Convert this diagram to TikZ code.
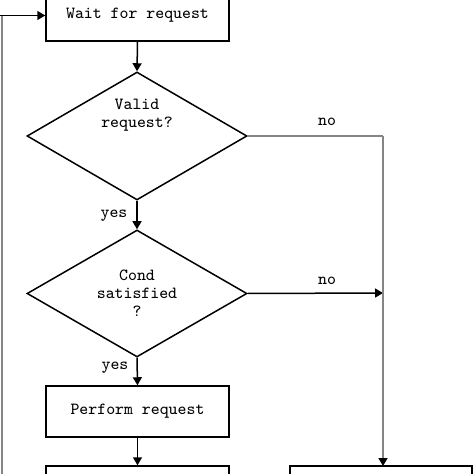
\documentclass[tikz,border=0pt]{standalone}
\usepackage{fontspec}
\usetikzlibrary{shapes.geometric,arrows.meta}
\definecolor{linegray}{HTML}{858585}
\tikzset{
  procbox/.style={draw=black, line width=0.75pt, rectangle, minimum width=91.5pt, minimum height=25.5pt, inner sep=0pt, font=\ttfamily\fontsize{8.5}{9}\selectfont},
  decbox/.style={draw=black, line width=0.75pt, diamond, minimum width=110pt, minimum height=64pt, inner sep=0pt},
  lbl/.style={font=\ttfamily\fontsize{8.5}{9}\selectfont, inner sep=0pt, align=center},
  flow/.style={draw=black, line width=0.75pt, -{Triangle[length=4pt,width=4.5pt]}},
  grayflow/.style={draw=linegray, line width=0.8pt},
  graytip/.style={draw=linegray, line width=0.8pt, -{Triangle[length=4pt,width=4.5pt,color=black]}}
}
\begin{document}
\begin{tikzpicture}[x=0.5pt,y=-0.5pt]
\useasboundingbox (0,0) rectangle (474,474);
\clip (0,0) rectangle (474,474);
\fill[white] (0,0) rectangle (474,474);
% nodes
\node[procbox] (wait) at (137.5,15.5) {Wait for request};
\node[decbox] (valid) at (137,136) {};
\node[lbl] (validtxt) at (137,115) {Valid\\request?};
\node[decbox, minimum height=63.5pt] (cond) at (137,293.5) {};
\node[lbl] (condtxt) at (137,293) {Cond\\satisfied\\?};
\node[procbox] (perform) at (137.5,411.5) {Perform request};
\node[procbox] (botleft) at (137.5,491.5) {};
\node[procbox, minimum width=91pt] (botright) at (381,491.5) {};
% labels
\node[lbl] (no1) at (327,122) {no};
\node[lbl] (no2) at (327,281) {no};
\node[lbl] (yes1) at (114,216) {yes};
\node[lbl] (yes2) at (115,368) {yes};
% coordinates
\coordinate (c1) at (383,136);
\coordinate (c2) at (383,293);
\coordinate (c3) at (383,466);
\coordinate (l1) at (2,520);
\coordinate (l2) at (2,15.5);
\coordinate (l0) at (0,15.5);
% connectors
\draw[flow] (wait.south) -- (valid.north);
\draw[flow] (valid.south) -- (cond.north);
\draw[flow] (cond.south) -- (perform.north);
\draw[flow] (perform.south) -- (botleft.north);
\draw[flow] (cond.east) -- (c2);
\draw[grayflow] (valid.east) -- (c1);
\draw[graytip] (c1) -- (c3);
\draw[linegray, line width=1.2pt] (l1) -- (l2);
\draw[flow] (l0) -- (wait.west);
\end{tikzpicture}
\end{document}
